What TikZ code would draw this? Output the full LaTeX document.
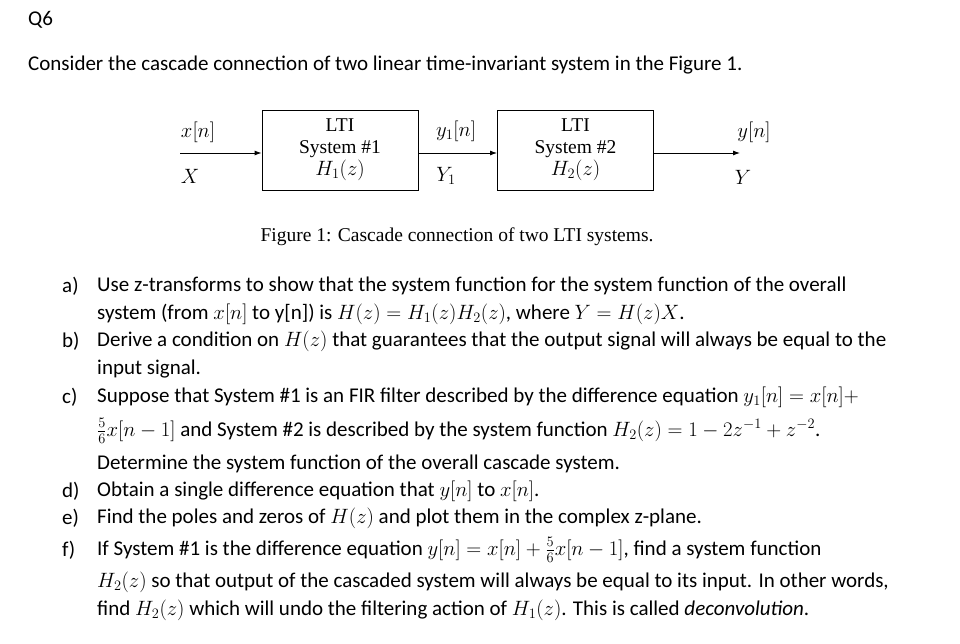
\documentclass[tikz,border=0pt]{standalone}
\usepackage{fontspec}
\setmainfont{Carlito}
\newfontfamily\tnr{Liberation Serif}
\usetikzlibrary{arrows.meta}
\begin{document}
\begin{tikzpicture}[x=1pt,y=-1pt,
  txt/.style={anchor=west,inner sep=0pt,font=\fontsize{21}{24}\selectfont},
  fig/.style={inner sep=0pt,font=\tnr\fontsize{19.5}{22}\selectfont},
  sys/.style={draw,line width=0.9pt,minimum width=156pt,minimum height=80pt,inner sep=0pt,align=center,font=\tnr\fontsize{19.5}{22}\selectfont},
  sig/.style={line width=0.9pt,-{Latex[length=7pt,width=5pt]}}]
\useasboundingbox (0,0) rectangle (960,643);
\node[txt] (q) at (28,20) {Q6};
\node[txt] (intro) at (28,65) {Consider the cascade connection of two linear time-invariant system in the Figure 1.};
\node[sys] (s1) at (340,150) {LTI\\System \#1\\$H_1(z)$};
\node[sys] (s2) at (575.5,150) {LTI\\System \#2\\$H_2(z)$};
\coordinate (in) at (180,153);
\coordinate (out) at (740,153);
\draw[sig] (in) -- (in -| s1.west);
\draw[sig] (s1.east |- in) -- (s2.west |- in);
\draw[sig] (s2.east |- in) -- (out);
\node[fig] (lx) at (198,132) {$x[n]$};
\node[fig] (lX) at (190,176) {$X$};
\node[fig] (ly1) at (456,131) {$y_1[n]$};
\node[fig] (lY1) at (446,176) {$Y_1$};
\node[fig] (ly) at (754,132) {$y[n]$};
\node[fig] (lY) at (743,177) {$Y$};
\node[fig] (cap) at (457,237) {Figure 1: Cascade connection of two LTI systems.};
\node[txt] (la) at (62,286) {a)};
\node[txt] (a1) at (97,286) {Use z-transforms to show that the system function for the system function of the overall};
\node[txt] (a2) at (97,314) {system (from $x[n]$ to y[n]) is $H(z)=H_1(z)H_2(z)$, where $Y=H(z)X$.};
\node[txt] (lb) at (62,341) {b)};
\node[txt] (b1) at (97,341) {Derive a condition on $H(z)$ that guarantees that the output signal will always be equal to the};
\node[txt] (b2) at (97,369) {input signal.};
\node[txt] (lc) at (62,397) {c)};
\node[txt] (c1) at (97,397) {Suppose that System \#1 is an FIR filter described by the difference equation $y_1[n]=x[n]+$};
\node[txt] (c2) at (97,431) {$\frac{5}{6}x[n-1]$ and System \#2 is described by the system function $H_2(z)=1-2z^{-1}+z^{-2}$.};
\node[txt] (c3) at (97,464) {Determine the system function of the overall cascade system.};
\node[txt] (ld) at (62,491) {d)};
\node[txt] (d1) at (97,491) {Obtain a single difference equation that $y[n]$ to $x[n]$.};
\node[txt] (le) at (62,518) {e)};
\node[txt] (e1) at (97,518) {Find the poles and zeros of $H(z)$ and plot them in the complex z-plane.};
\node[txt] (lf) at (62,550) {f)};
\node[txt] (f1) at (97,550) {If System \#1 is the difference equation $y[n]=x[n]+\frac{5}{6}x[n-1]$, find a system function};
\node[txt] (f2) at (97,582) {$H_2(z)$ so that output of the cascaded system will always be equal to its input. In other words,};
\node[txt] (f3) at (97,610) {find $H_2(z)$ which will undo the filtering action of $H_1(z)$. This is called \textit{deconvolution}.};
\end{tikzpicture}
\end{document}
